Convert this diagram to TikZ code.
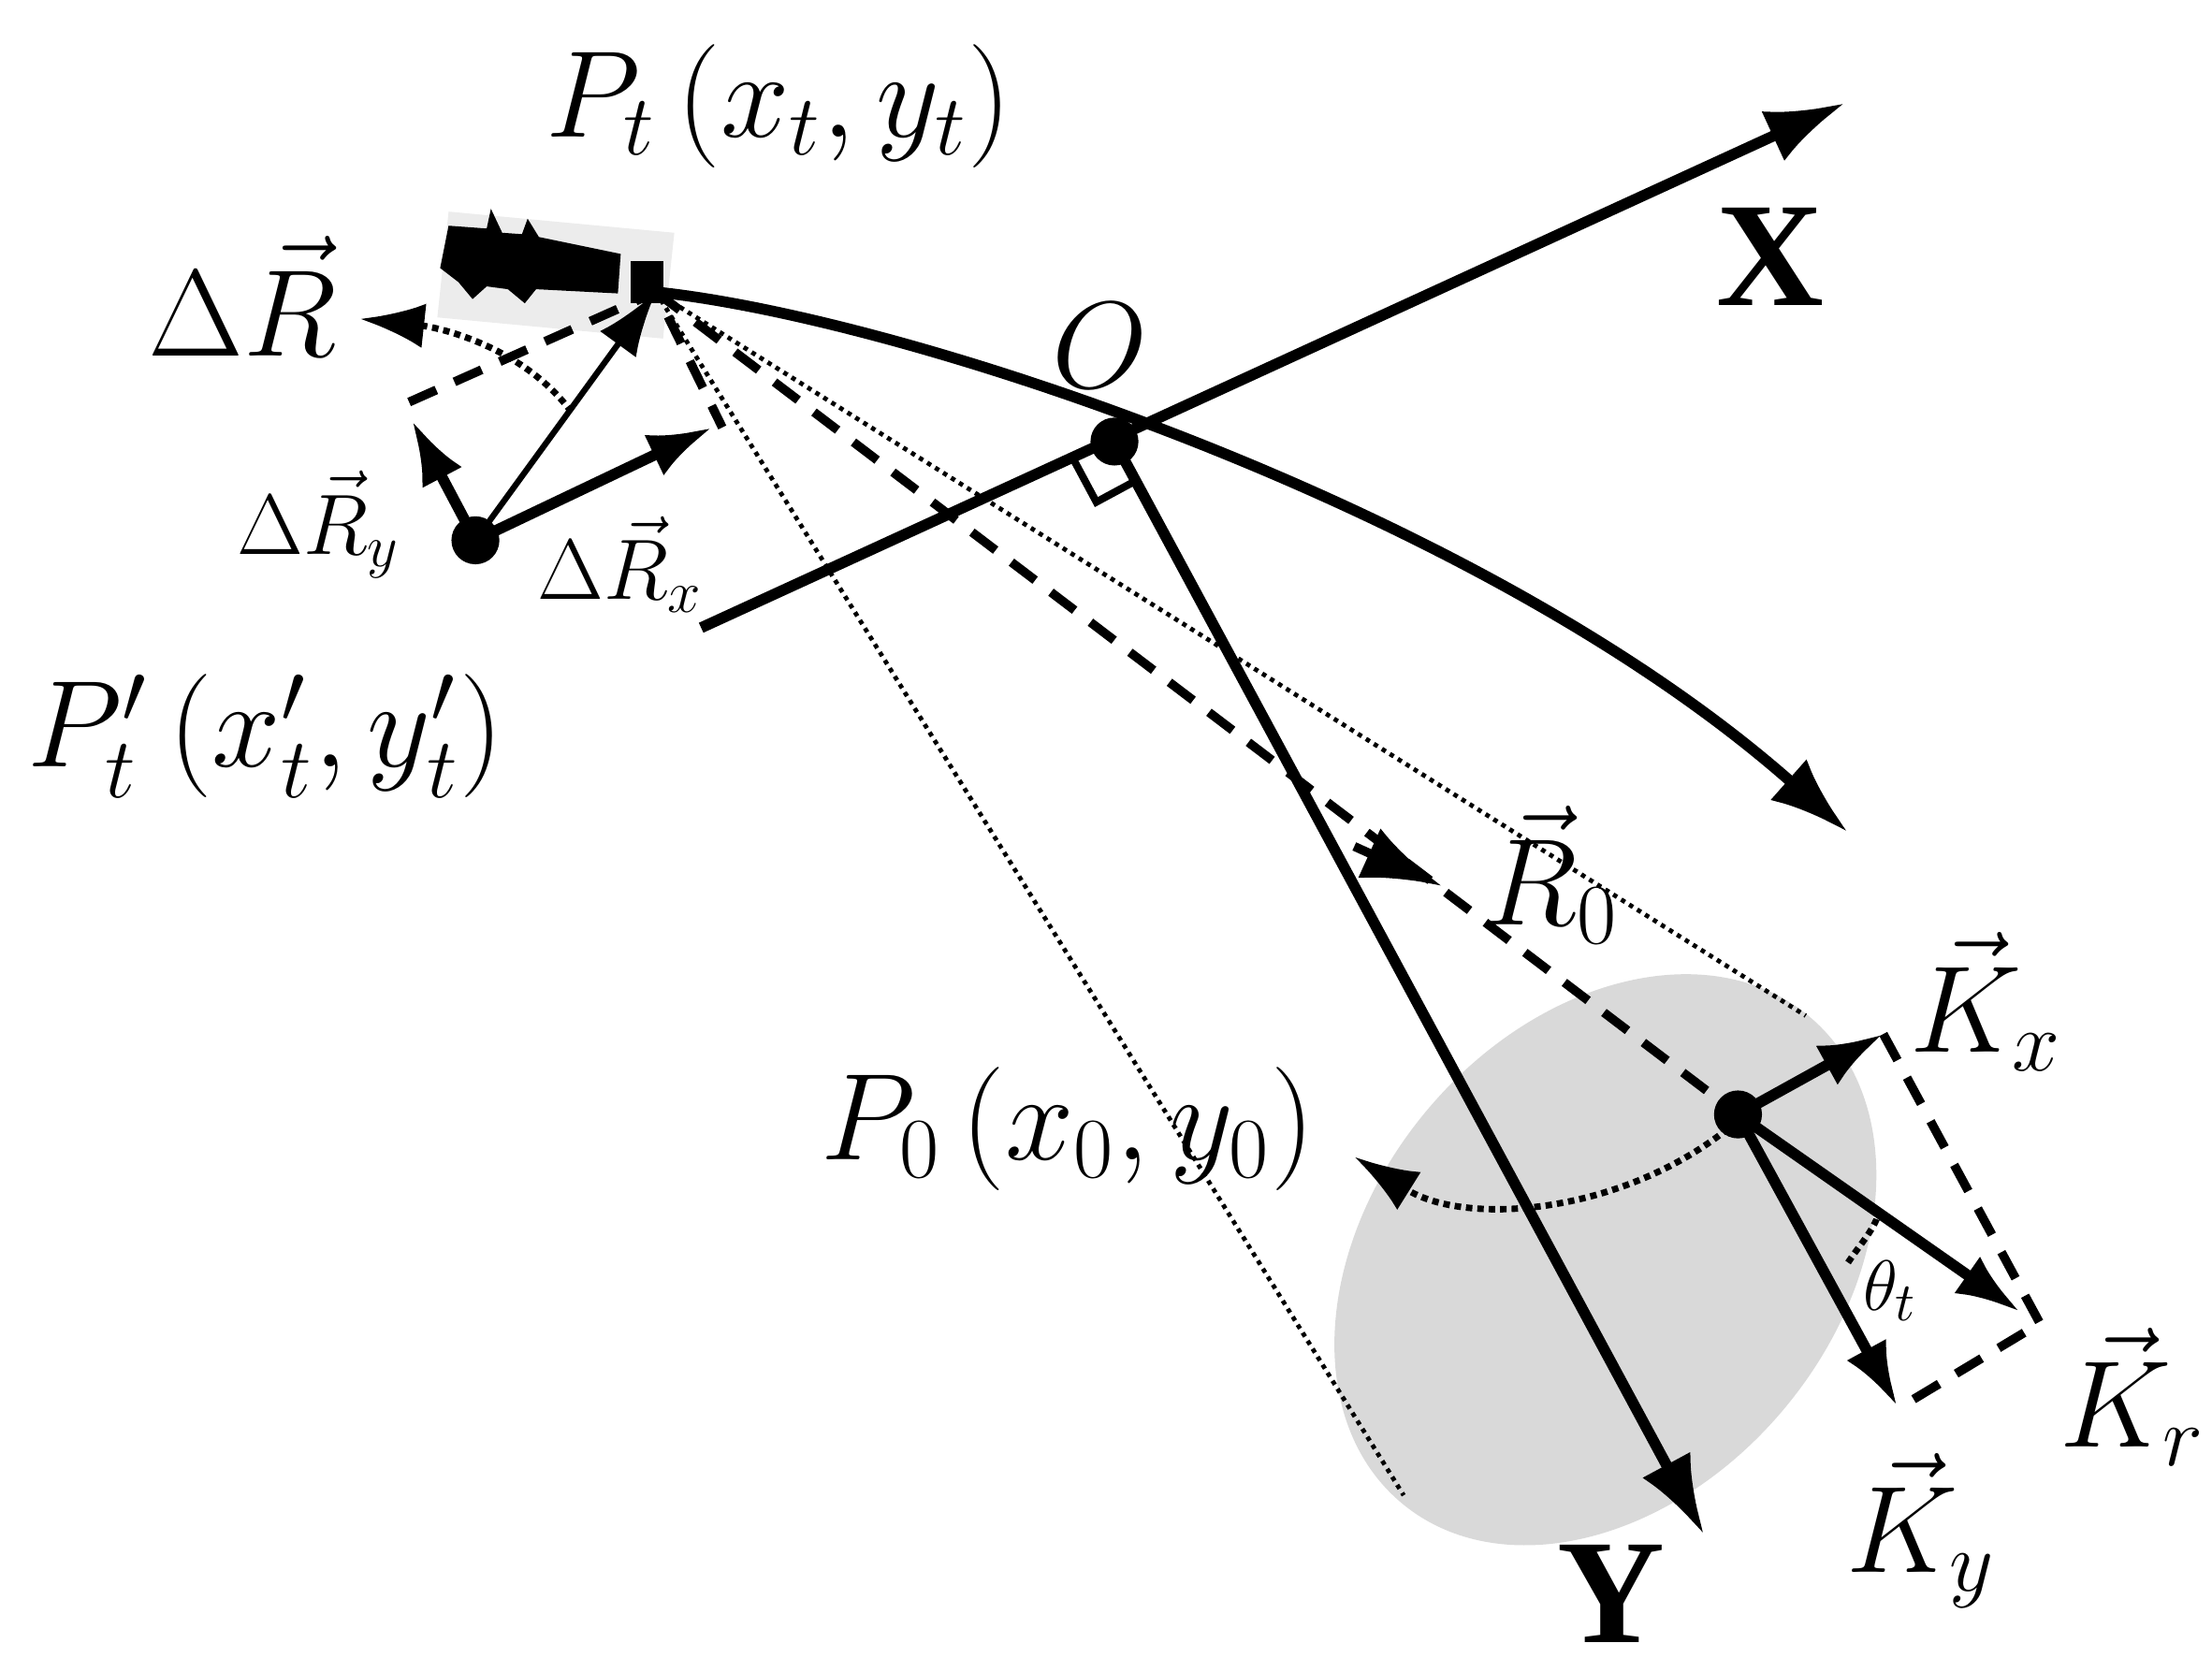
\documentclass[tikz,border=0pt]{standalone}
\usepackage{fontspec}
\setmainfont{Liberation Serif}
\usetikzlibrary{arrows.meta,calc}
\begin{document}
\begin{tikzpicture}[x=0.01cm,y=-0.01cm,
  thick/.style={line width=2.2pt},
  arr/.style={-{Latex[length=16pt,width=11pt]}},
  sarr/.style={-{Latex[length=13pt,width=9pt]}},
  dsh/.style={dashed,line width=1.8pt,dash pattern=on 6pt off 4pt},
  dot/.style={densely dotted,line width=0.9pt},
  lab/.style={font=\fontsize{23}{28}\selectfont}]
\useasboundingbox (0,0) rectangle (1568,1175);
% ellipse
\fill[gray!30,rotate around={50:(1138,893)}] (1138,893) ellipse (225 and 165);
% named points
\coordinate (A) at (465,207);
\coordinate (O) at (790,313);
\coordinate (T) at (1232,790);
\coordinate (Pp) at (337,383);
\coordinate (Xs) at (497,445);
\coordinate (Xe) at (1308,73);
\coordinate (Ye) at (1208,1088);
% aircraft
\fill[gray!15] (318,150) -- (478,165) -- (470,240) -- (310,225) -- cycle;
\fill[black] (318,160) -- (345,162) -- (348,148) -- (356,165) -- (370,166) -- (374,155) -- (382,168) -- (440,180) -- (438,208) -- (380,205) -- (372,215) -- (360,205) -- (345,203) -- (335,212) -- (325,200) -- (312,190) -- cycle;
\fill[black] (447,185) rectangle (470,215);
% trajectory
\draw[thick,arr] (A) .. controls (640,225) and (1050,360) .. (1310,590);
% axes
\draw[thick,arr] (Xs) -- (Xe);
\draw[thick,arr] (O) -- (Ye);
\draw[line width=1.5pt] ($(O)!9pt!(Ye)$) coordinate (r1) -- ($(r1)!9pt!90:(O)$) coordinate (r2) -- ($(O)!9pt!(Xs)$);
% lines of sight
\draw[dot] (A) -- (995,1060);
\draw[dot] (A) -- (1280,720);
\draw[dsh] (A) -- (T);
\draw[line width=1.8pt,-{Latex[length=16pt,width=11pt]}] (960,600) -- (1022,628);
% small vectors
\draw[line width=1.2pt,sarr] (Pp) -- (A);
\draw[thick,sarr] (Pp) -- (292,298);
\draw[thick,sarr] (Pp) -- (505,303);
\draw[dsh] (290,285) -- (A) -- (512,303);
\draw[dot,line width=1.3pt,sarr] (405,292) .. controls (370,245) and (310,232) .. (255,226);
\fill (Pp) circle (17);
\fill (O) circle (17);
% target vectors
\draw[thick,sarr] (T) -- (1335,733);
\draw[thick,sarr] (T) -- (1432,930);
\draw[thick,sarr] (T) -- (1345,997);
\draw[dsh] (1335,733) -- (1446,938) -- (1348,997);
\draw[dot,line width=1.3pt] (1310,895) .. controls (1320,880) and (1330,870) .. (1332,858);
\draw[dot,line width=1.3pt,sarr] (1225,800) .. controls (1150,860) and (1040,870) .. (960,820);
\fill (T) circle (17);
% labels
\node[lab] at (552,75) {$P_{t}\left(x_{t},y_{t}\right)$};
\node[lab] at (172,210) {$\Delta\vec{R}$};
\node[lab] at (780,245) {$O$};
\node[font=\bfseries\fontsize{30}{34}\selectfont] at (1255,182) {X};
\node[font=\fontsize{18}{22}\selectfont] at (226,372) {$\Delta\vec{R}_{y}$};
\node[font=\fontsize{18}{22}\selectfont] at (440,400) {$\Delta\vec{R}_{x}$};
\node[lab] at (188,522) {$P'_{t}\left(x'_{t},y'_{t}\right)$};
\node[lab] at (1100,620) {$\vec{R}_{0}$};
\node[lab] at (757,800) {$P_{0}\left(x_{0},y_{0}\right)$};
\node[lab] at (1408,710) {$\vec{K}_{x}$};
\node[lab] at (1512,990) {$\vec{K}_{r}$};
\node[lab] at (1362,1085) {$\vec{K}_{y}$};
\node[font=\bfseries\fontsize{30}{34}\selectfont] at (1142,1130) {Y};
\node[font=\fontsize{15}{18}\selectfont] at (1340,915) {$\theta_{t}$};
\end{tikzpicture}
\end{document}
